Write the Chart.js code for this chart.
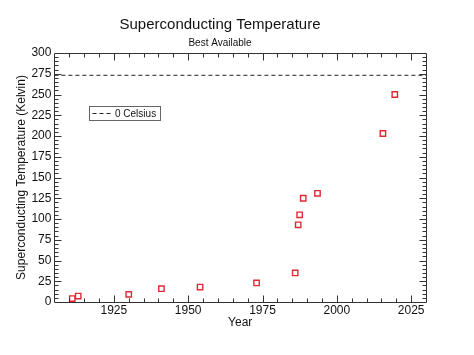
<!DOCTYPE html>
<html><head><meta charset="utf-8">
<script src="https://cdn.jsdelivr.net/npm/chart.js@4.4.1/dist/chart.umd.min.js"></script>
<style>html,body{margin:0;padding:0;background:#fff;}#wrap{width:474px;height:355px;}</style>
</head><body><div id="wrap"><canvas id="c" width="474" height="355"></canvas></div>
<script>
// ---- data ----
const years   = [1911, 1913, 1930, 1941, 1954, 1973, 1986, 1987, 1987.5, 1988.7, 1993.5, 2015.5, 2019.5];
const tempsK  = [4.2, 7.2, 9.2, 16, 18, 23, 35, 93, 105, 125, 131, 203, 250];
const freezeYears = [1905, 2030];
const freezeK     = [273.15, 273.15];
const xRange = [1905, 2030];
const yRange = [0, 300];
const xTickValues = [1925, 1950, 1975, 2000, 2025];
const yTickValues = [0, 25, 50, 75, 100, 125, 150, 175, 200, 225, 250, 275, 300];
const minorStep = 5;
const legendLabel = '0 Celsius';

const FONT = "'Liberation Sans', Arial, Helvetica, sans-serif";
const AXIS = '#333333';

const framePlugin = {
  id: 'frame',
  afterDatasetsDraw(chart) {
    const {ctx, chartArea: a, scales: {x, y}} = chart;
    const L = Math.round(a.left) + 0.5, R = Math.round(a.right) + 0.5;
    const T = Math.round(a.top) + 0.5, B = Math.round(a.bottom) + 0.5;
    ctx.save();
    ctx.strokeStyle = AXIS; ctx.lineWidth = 1;
    ctx.beginPath();
    ctx.rect(L, T, R - L, B - T);
    for (let v = xRange[0] + minorStep; v < xRange[1]; v += minorStep) {
      const px = Math.round(x.getPixelForValue(v)) + 0.5;
      const len = xTickValues.includes(v) ? 7 : 4;
      ctx.moveTo(px, B); ctx.lineTo(px, B - len);
      ctx.moveTo(px, T); ctx.lineTo(px, T + len);
    }
    for (let v = yRange[0] + minorStep; v < yRange[1]; v += minorStep) {
      const py = Math.round(y.getPixelForValue(v)) + 0.5;
      const len = yTickValues.includes(v) ? 7 : 4;
      ctx.moveTo(L, py); ctx.lineTo(L + len, py);
      ctx.moveTo(R, py); ctx.lineTo(R - len, py);
    }
    ctx.stroke();
    ctx.restore();
  }
};

const legendPlugin = {
  id: 'boxLegend',
  afterDraw(chart) {
    const {ctx, chartArea: a} = chart;
    const bx = Math.round(a.left + 35) + 0.5, by = Math.round(a.top + 53) + 0.5;
    const bw = 71, bh = 14;
    ctx.save();
    ctx.fillStyle = '#ffffff';
    ctx.fillRect(bx, by, bw, bh);
    ctx.strokeStyle = '#666666'; ctx.lineWidth = 1;
    ctx.strokeRect(bx, by, bw, bh);
    ctx.beginPath();
    ctx.setLineDash([4, 3]);
    ctx.strokeStyle = '#222222';
    ctx.moveTo(bx + 3, by + bh / 2); ctx.lineTo(bx + 22, by + bh / 2);
    ctx.stroke();
    ctx.setLineDash([]);
    ctx.fillStyle = '#111111';
    ctx.font = '10px ' + FONT;
    ctx.textBaseline = 'middle';
    ctx.textAlign = 'left';
    ctx.fillText(legendLabel, bx + 25.5, by + bh / 2 + 0.5);
    ctx.restore();
  }
};

new Chart(document.getElementById('c'), {
  type: 'scatter',
  data: {
    datasets: [
      {
        label: 'Superconductors',
        data: years.map((yr, i) => ({x: yr, y: tempsK[i]})),
        pointStyle: 'rect',
        pointRadius: 3.8,
        pointBorderWidth: 1.4,
        borderColor: '#dd2a35',
        backgroundColor: 'rgba(0,0,0,0)',
        showLine: false
      },
      {
        type: 'line',
        label: legendLabel,
        data: freezeYears.map((yr, i) => ({x: yr, y: freezeK[i]})),
        borderColor: '#222222',
        borderWidth: 1,
        borderDash: [4, 3],
        pointRadius: 0,
        fill: false
      }
    ]
  },
  options: {
    responsive: false,
    animation: false,
    devicePixelRatio: 1,
    layout: {padding: {left: 14, right: 48, top: 0, bottom: 26}},
    plugins: {
      legend: {display: false},
      tooltip: {enabled: false},
      title: {
        display: true, text: 'Superconducting Temperature', color: '#111',
        font: {family: FONT, size: 15, weight: 'normal', lineHeight: 1.2},
        padding: {top: 16, bottom: 0}
      },
      subtitle: {
        display: true, text: 'Best Available', color: '#111',
        font: {family: FONT, size: 10, weight: 'normal', lineHeight: 1.2},
        padding: {top: 3, bottom: 4}
      }
    },
    scales: {
      x: {
        type: 'linear', min: xRange[0], max: xRange[1],
        afterBuildTicks: s => { s.ticks = xTickValues.map(v => ({value: v})); },
        grid: {display: false, drawTicks: false},
        border: {display: false},
        ticks: {color: '#111', font: {family: FONT, size: 12, lineHeight: 1}, padding: 3, maxRotation: 0,
                callback: v => String(v)},
        title: {display: true, text: 'Year', color: '#111', font: {family: FONT, size: 12, lineHeight: 1}, padding: {top: -3, bottom: 0}}
      },
      y: {
        type: 'linear', min: yRange[0], max: yRange[1],
        afterBuildTicks: s => { s.ticks = yTickValues.map(v => ({value: v})); },
        grid: {display: false, drawTicks: false},
        border: {display: false},
        ticks: {color: '#111', font: {family: FONT, size: 12, lineHeight: 1}, padding: 3, callback: v => String(v)},
        title: {display: true, text: 'Superconducting Temperature (Kelvin)', color: '#111', font: {family: FONT, size: 12, lineHeight: 1.2}, padding: {top: 0, bottom: 0}}
      }
    }
  },
  plugins: [framePlugin, legendPlugin]
});
</script>
</body></html>
